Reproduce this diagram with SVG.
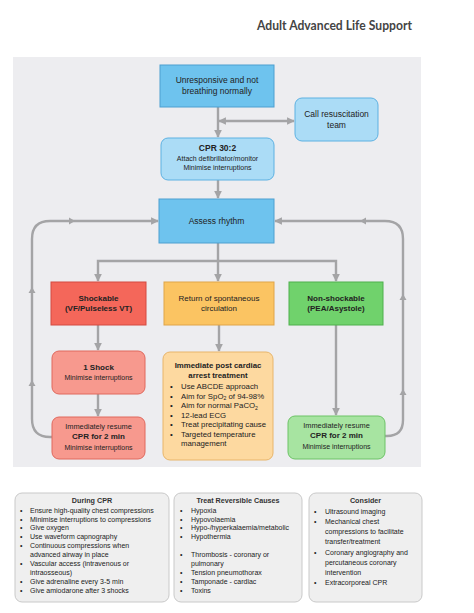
<svg xmlns="http://www.w3.org/2000/svg" width="474" height="613" viewBox="0 0 474 613">
<style>
text{font-family:"Liberation Sans",Arial,sans-serif;fill:#222;}
.c{text-anchor:middle;}
.b{font-weight:bold;}
.t85{font-size:8.5px;}
.t8{font-size:8px;}
.t7{font-size:7px;}
.t75{font-size:7.4px;}
.t78{font-size:7.8px;}
.sm{font-size:7px;fill:#333;}
.smb{font-size:7.2px;font-weight:bold;fill:#333;}
.ln{fill:none;stroke:#a4a4a6;stroke-width:2.4;}
.mk{fill:#a4a4a6;}
.blue{fill:#6ec3ee;stroke:#4d9fd0;stroke-width:1;}
.lblue{fill:#abdcf6;stroke:#5db1e2;stroke-width:1;}
.red{fill:#f4675a;stroke:#d44b40;stroke-width:1;}
.lred{fill:#f7998e;stroke:#e0685d;stroke-width:1;}
.org{fill:#fbc462;stroke:#e0a548;stroke-width:1;}
.lorg{fill:#fdd9a0;stroke:#e8b56a;stroke-width:1;}
.grn{fill:#70d26c;stroke:#4fb04c;stroke-width:1;}
.lgrn{fill:#a7e4a1;stroke:#6cc366;stroke-width:1;}
.gray{fill:#efefef;stroke:#c9c9c9;stroke-width:1;}
</style>
<defs>
<marker id="ah" viewBox="0 0 10 10" refX="9" refY="5" markerWidth="3.2" markerHeight="3.2" orient="auto-start-reverse">
<path d="M0,0 L10,5 L0,10 Z" fill="#a4a4a6"/>
</marker>
</defs>
<rect width="474" height="613" fill="#ffffff"/>
<text x="257" y="30" style="font-family:Lato,'Liberation Sans',sans-serif;font-weight:700;font-size:12.5px;fill:#444" textLength="155" lengthAdjust="spacingAndGlyphs">Adult Advanced Life Support</text>
<rect x="13" y="57" width="408" height="410" fill="#ededf0"/>

<g id="connectors">
<path class="ln" d="M218,107 V137" marker-end="url(#ah)"/>
<path class="ln" d="M219,121 H294" marker-start="url(#ah)" marker-end="url(#ah)"/>
<path class="ln" d="M218,180 V198" marker-end="url(#ah)"/>
<path class="ln" d="M218,243 V281" marker-end="url(#ah)"/>
<path class="ln" d="M98,281 V261 H336 V281" marker-start="url(#ah)" marker-end="url(#ah)"/>
<path class="ln" d="M98,325 V350" marker-end="url(#ah)"/>
<path class="ln" d="M98,394 V416" marker-end="url(#ah)"/>
<path class="ln" d="M219,325 V351" marker-end="url(#ah)"/>
<path class="ln" d="M336,325 V415" marker-end="url(#ah)"/>
<path class="ln" d="M52,437 H50 Q32,437 32,419 V239 Q32,221 50,221 H158" marker-end="url(#ah)"/>
<path class="ln" d="M385,436 H387 Q403,436 403,420 V239 Q403,221 385,221 H275" marker-end="url(#ah)"/>
<path class="mk" d="M75,221 l-6,-3.5 v7 z"/>
<path class="mk" d="M360,221 l6,-3.5 v7 z"/>
<path class="mk" d="M32,287 l-3.5,6 h7 z"/>
<path class="mk" d="M32,380 l-3.5,6 h7 z"/>
<path class="mk" d="M403,294 l-3.5,6 h7 z"/>
<path class="mk" d="M403,389 l-3.5,6 h7 z"/>
</g>

<g id="n-unresponsive">
<rect class="blue" x="160" y="65" width="114" height="42"/>
<text class="c t85" x="217" y="83">Unresponsive and not</text>
<text class="c t85" x="217" y="94">breathing normally</text>
</g>
<g id="n-call">
<rect class="lblue" x="295" y="98" width="83" height="43" rx="7"/>
<text class="c t85" x="336.5" y="117">Call resuscitation</text>
<text class="c t85" x="336.5" y="128">team</text>
</g>
<g id="n-cpr">
<rect class="lblue" x="161" y="138" width="113" height="42" rx="7"/>
<text class="c t85 b" x="217.5" y="151">CPR 30:2</text>
<text class="c t7" x="217.5" y="161">Attach defibrillator/monitor</text>
<text class="c t7" x="217.5" y="170">Minimise interruptions</text>
</g>
<g id="n-assess">
<rect class="blue" x="159" y="199" width="115" height="44"/>
<text class="c t85" x="216.5" y="224">Assess rhythm</text>
</g>
<g id="n-shockable">
<rect class="red" x="51" y="282" width="95" height="43"/>
<text class="c t8 b" x="98.5" y="301">Shockable</text>
<text class="c t8 b" x="98.5" y="311">(VF/Pulseless VT)</text>
</g>
<g id="n-rosc">
<rect class="org" x="164" y="282" width="110" height="43"/>
<text class="c t8" x="219" y="301">Return of spontaneous</text>
<text class="c t8" x="219" y="311">circulation</text>
</g>
<g id="n-nonshockable">
<rect class="grn" x="289" y="282" width="94" height="43"/>
<text class="c t8 b" x="336" y="301">Non-shockable</text>
<text class="c t8 b" x="336" y="311">(PEA/Asystole)</text>
</g>
<g id="n-shock">
<rect class="lred" x="52" y="351" width="93" height="43" rx="7"/>
<text class="c t8 b" x="98.5" y="370">1 Shock</text>
<text class="c t7" x="98.5" y="380">Minimise interruptions</text>
</g>
<g id="n-resume-left">
<rect class="lred" x="52" y="417" width="93" height="42" rx="7"/>
<text class="c t75" x="98.5" y="429">Immediately resume</text>
<text class="c t8 b" x="98.5" y="439">CPR for 2 min</text>
<text class="c t7" x="98.5" y="450">Minimise interruptions</text>
</g>
<g id="n-post">
<rect class="lorg" x="163" y="352" width="110" height="108" rx="7"/>
<text class="c t78 b" x="218" y="368">Immediate post cardiac</text>
<text class="c t78 b" x="218" y="378">arrest treatment</text>
<g class="t78">
<text x="170" y="389">•</text><text x="181" y="389">Use ABCDE approach</text>
<text x="170" y="398.5">•</text><text x="181" y="398.5">Aim for SpO<tspan font-size="5.2" dy="1.5">2</tspan><tspan dy="-1.5"> of 94-98%</tspan></text>
<text x="170" y="408">•</text><text x="181" y="408">Aim for normal PaCO<tspan font-size="5.2" dy="1.5">2</tspan></text>
<text x="170" y="417.5">•</text><text x="181" y="417.5">12-lead ECG</text>
<text x="170" y="427">•</text><text x="181" y="427">Treat precipitating cause</text>
<text x="170" y="436.5">•</text><text x="181" y="436.5">Targeted temperature</text>
<text x="181" y="446">management</text>
</g>
</g>
<g id="n-resume-right">
<rect class="lgrn" x="288" y="416" width="97" height="43" rx="7"/>
<text class="c t75" x="336.5" y="428">Immediately resume</text>
<text class="c t8 b" x="336.5" y="438">CPR for 2 min</text>
<text class="c t7" x="336.5" y="449">Minimise interruptions</text>
</g>

<g id="n-during">
<rect class="gray" x="15" y="493" width="154" height="109" rx="7"/>
<text class="c smb" x="92" y="503">During CPR</text>
<g class="sm">
<text x="20" y="513">•</text><text x="30" y="513">Ensure high-quality chest compressions</text>
<text x="20" y="521.5">•</text><text x="30" y="521.5">Minimise interruptions to compressions</text>
<text x="20" y="530">•</text><text x="30" y="530">Give oxygen</text>
<text x="20" y="539">•</text><text x="30" y="539">Use waveform capnography</text>
<text x="20" y="548">•</text><text x="30" y="548">Continuous compressions when</text>
<text x="30" y="557">advanced airway in place</text>
<text x="20" y="566">•</text><text x="30" y="566">Vascular access (intravenous or</text>
<text x="30" y="575">intraosseous)</text>
<text x="20" y="584">•</text><text x="30" y="584">Give adrenaline every 3-5 min</text>
<text x="20" y="593">•</text><text x="30" y="593">Give amiodarone after 3 shocks</text>
</g>
</g>
<g id="n-reversible">
<rect class="gray" x="174" y="493" width="128" height="109" rx="7"/>
<text class="c smb" x="238" y="503">Treat Reversible Causes</text>
<g class="sm">
<text x="180" y="513">•</text><text x="191" y="513">Hypoxia</text>
<text x="180" y="521.5">•</text><text x="191" y="521.5">Hypovolaemia</text>
<text x="180" y="530">•</text><text x="191" y="530">Hypo-/hyperkalaemia/metabolic</text>
<text x="180" y="539">•</text><text x="191" y="539">Hypothermia</text>
<text x="180" y="557">•</text><text x="191" y="557">Thrombosis - coronary or</text>
<text x="191" y="566">pulmonary</text>
<text x="180" y="575">•</text><text x="191" y="575">Tension pneumothorax</text>
<text x="180" y="584">•</text><text x="191" y="584">Tamponade - cardiac</text>
<text x="180" y="593">•</text><text x="191" y="593">Toxins</text>
</g>
</g>
<g id="n-consider">
<rect class="gray" x="309" y="493" width="113" height="109" rx="7"/>
<text class="c smb" x="365.5" y="503">Consider</text>
<g class="sm">
<text x="314" y="514">•</text><text x="325" y="514">Ultrasound imaging</text>
<text x="314" y="524">•</text><text x="325" y="524">Mechanical chest</text>
<text x="325" y="534">compressions to facilitate</text>
<text x="325" y="544">transfer/treatment</text>
<text x="314" y="555">•</text><text x="325" y="555">Coronary angiography and</text>
<text x="325" y="565">percutaneous coronary</text>
<text x="325" y="575">intervention</text>
<text x="314" y="585">•</text><text x="325" y="585">Extracorporeal CPR</text>
</g>
</g>
</svg>
